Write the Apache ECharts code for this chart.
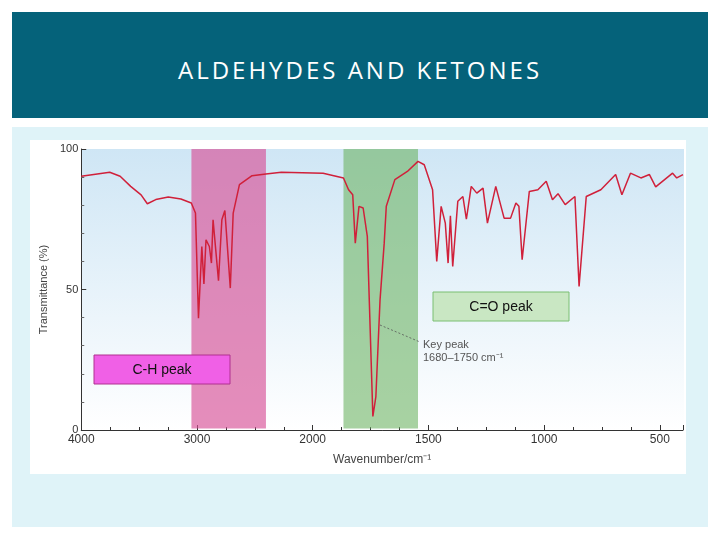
<!DOCTYPE html>
<html><head><meta charset="utf-8">
<script src="https://cdn.jsdelivr.net/npm/echarts@6/dist/echarts.min.js"></script>
<style>
body{margin:0;width:720px;height:540px;background:#fff;position:relative;font-family:"Liberation Sans",Arial,sans-serif;overflow:hidden}
#banner{position:absolute;left:12px;top:12px;width:696px;height:106px;background:#05627a;color:#fff;font-size:24px;letter-spacing:3px;text-align:center;line-height:116px;font-family:"Open Sans",sans-serif}
#panel{position:absolute;left:12px;top:127px;width:696px;height:400px;background:#dff3f8}
#chart{position:absolute;left:30px;top:140px;width:656px;height:334px;background:#fff}
</style></head><body>
<div id="banner">ALDEHYDES AND KETONES</div>
<div id="panel"></div>
<div id="chart"></div>
<script>
const wavenumbers=[4000,3754,3664,3573,3483,3429,3356,3248,3139,3049,3013,2987,2958,2940,2922,2893,2875,2861,2814,2785,2759,2712,2687,2633,2524,2405,2271,1955,1867,1845,1827,1816,1800,1782,1764,1740,1727,1709,1691,1682,1645,1591,1545,1518,1482,1464,1445,1427,1415,1405,1395,1373,1351,1336,1315,1291,1264,1245,1209,1173,1145,1122,1109,1095,1064,1027,991,964,940,909,867,849,818,755,691,664,627,582,545,518,445,427,400];
const transmittance=[90.3,91.7,90.3,86.7,83.7,80.5,82,82.9,82.2,80.8,77.2,39.8,65.3,52,67.7,65.3,59.4,74.8,53.1,74.8,78.1,50.5,77.2,87.3,90.5,91.1,91.7,91.4,89.7,85.5,83.7,66.5,79.6,79,68.9,4.8,11.9,46.3,66.5,79.6,89.1,92,95.6,94.4,85.5,60,79.6,73.6,59.4,76.2,58.2,81.4,83.1,75,86.7,84.3,86.1,73.6,86.7,75.4,75.4,80.8,79.6,60.6,84.9,85.5,88.5,81.9,84.1,80.2,83.1,51.1,83.1,85.5,90.9,83.7,91.4,89.7,90.9,86.5,91.4,89.7,90.9];
const xTickLabels=[4000,3000,2000,1500,1000,500];
const yTickLabels=[0,50,100];
const bands=[[3048,2404],[1867,1545]];
// IR chart scale: halves density above 2000 cm-1
function pos(w){return w>=2000?(4000-w)/2:1000+(2000-w);}
function inv(p){return p<=1000?4000-2*p:2000-(p-1000);}
const chart=echarts.init(document.getElementById('chart'));
chart.setOption({
 animation:false,
 grid:{left:51,right:2,top:9,bottom:44},
 xAxis:{type:'value',min:0,max:pos(400),interval:500,
  axisLine:{lineStyle:{color:'#333'}},axisTick:{inside:true,length:5,lineStyle:{color:'#333'}},
  minorTick:{show:true,splitNumber:4,length:3,lineStyle:{color:'#333'}},
  splitLine:{show:false},
  axisLabel:{color:'#333',fontSize:12,margin:4,formatter:v=>{const w=Math.round(inv(v));return xTickLabels.includes(w)?w:'';}},
  name:'Wavenumber/cm⁻¹',nameLocation:'middle',nameGap:24,nameTextStyle:{color:'#444',fontSize:12}},
 yAxis:{type:'value',min:0,max:100,interval:50,
  axisLine:{show:true,lineStyle:{color:'#333'}},axisTick:{inside:true,length:5,lineStyle:{color:'#333'}},
  minorTick:{show:true,splitNumber:5,length:3,lineStyle:{color:'#666'}},
  splitLine:{show:false},
  axisLabel:{color:'#333',fontSize:11,margin:3,formatter:v=>yTickLabels.includes(v)?v:''},
  name:'Transmittance (%)',nameLocation:'middle',nameGap:28,nameTextStyle:{color:'#444',fontSize:11}},
 graphic:[{type:'rect',z:-10,shape:{x:51,y:9,width:603,height:281},
   style:{fill:new echarts.graphic.LinearGradient(0,0,0,1,[{offset:0,color:'#cfe6f5'},{offset:1,color:'#ffffff'}])}},
  {type:'line',z:50,shape:{x1:350,y1:185,x2:390,y2:202},style:{stroke:'#555',lineWidth:0.8,lineDash:[2,2]}},
  {type:'text',z:50,left:393,top:198,style:{text:'Key peak\n1680–1750 cm⁻¹',fill:'#555',fontSize:11,lineHeight:13}},
  {type:'rect',z:60,shape:{x:403,y:152,width:136,height:29},style:{fill:'#c9e7c3',stroke:'#7bbf72',lineWidth:1}},
  {type:'text',z:61,style:{text:'C=O peak',x:471,y:167,align:'center',verticalAlign:'middle',fill:'#111',fontSize:14}},
  {type:'rect',z:60,shape:{x:64,y:215,width:136,height:29},style:{fill:'#f060e6',stroke:'#b03090',lineWidth:1}},
  {type:'text',z:61,style:{text:'C-H peak',x:132,y:230,align:'center',verticalAlign:'middle',fill:'#111',fontSize:14}}
 ],
 series:[
  {type:'line',z:2,symbol:'none',lineStyle:{color:'#d0203a',width:1.5},
   data:wavenumbers.map((w,i)=>[pos(w),transmittance[i]])},
  {type:'line',z:5,data:[],markArea:{silent:true,data:[
   [{xAxis:pos(bands[0][0]),yAxis:0.5,itemStyle:{color:'rgba(215,80,150,0.65)'}},{xAxis:pos(bands[0][1]),yAxis:100}],
   [{xAxis:pos(bands[1][0]),yAxis:0.5,itemStyle:{color:'rgba(110,180,100,0.6)'}},{xAxis:pos(bands[1][1]),yAxis:100}]]}}
 ]
});
</script></body></html>
